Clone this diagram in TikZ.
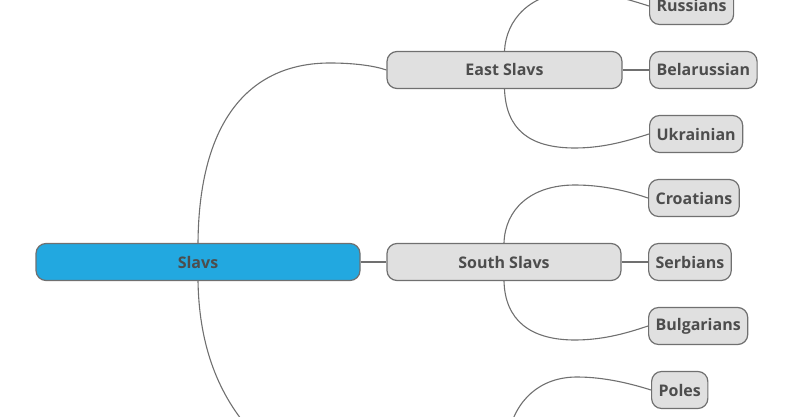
\documentclass[tikz,border=0pt]{standalone}
\usepackage{fontspec}
\setmainfont{Open Sans}
\usetikzlibrary{positioning}
\definecolor{rootblue}{HTML}{22A8E0}
\definecolor{boxgray}{HTML}{E0E0E0}
\definecolor{edgegray}{HTML}{707070}
\definecolor{textgray}{HTML}{4D4D4D}

\begin{document}
\begin{tikzpicture}[
    x=1pt, y=-1pt,
    topic/.style={draw=edgegray, line width=1.2pt, rounded corners=10pt,
        fill=boxgray, minimum height=37pt, inner xsep=7pt,
        font=\fontsize{16}{18}\selectfont\bfseries, text=textgray},
    root topic/.style={topic, fill=rootblue},
    branch/.style={draw=edgegray, line width=1.1pt},
    every node/.style={color=textgray}
    ]
    \useasboundingbox (0,0) rectangle (794,417);
    \clip (0,0) rectangle (794,417);
    % Nodes
    \node[root topic, minimum width=324pt] (slavs) at (198,262) {Slavs};
    \node[topic, minimum width=235pt] (east) at (504.5,70) {East Slavs};
    \node[topic, minimum width=234pt] (south) at (504,262) {South Slavs};
    \coordinate (west) at (508,436);
    % Leaves
    \node[topic, anchor=west] (russians) at (649,6) {Russians};
    \node[topic, anchor=west] (belarus) at (649,70) {Belarussian};
    \node[topic, anchor=west] (ukraine) at (649,134) {Ukrainian};
    \node[topic, anchor=west] (croatia) at (648,198) {Croatians};
    \node[topic, anchor=west] (serbia) at (648,262) {Serbians};
    \node[topic, anchor=west] (bulgaria) at (648,326) {Bulgarians};
    \node[topic, anchor=west] (poles) at (651,390) {Poles};
    % Main branches
    \draw[branch] (slavs.north) .. controls (199,120) and (250,63) .. (330,63)
        .. controls (355,63) and (375,66) .. (east.west);
    \draw[branch] (slavs.east) -- (south.west);
    \draw[branch] (slavs.south) .. controls (199,340) and (215,390) .. (250,430);
    % East Slavs
    \draw[branch] (east.north) .. controls (506,20) and (530,-8) .. (575,-8)
        .. controls (605,-8) and (630,0) .. (russians.west);
    \draw[branch] (east.east) -- (belarus.west);
    \draw[branch] (east.south) .. controls (506,130) and (530,148) .. (575,148)
        .. controls (605,148) and (630,140) .. (ukraine.west);
    % South Slavs
    \draw[branch] (south.north) .. controls (505,210) and (530,185) .. (575,185)
        .. controls (605,185) and (630,192) .. (croatia.west);
    \draw[branch] (south.east) -- (serbia.west);
    \draw[branch] (south.south) .. controls (505,320) and (530,340) .. (575,340)
        .. controls (605,340) and (630,332) .. (bulgaria.west);
    % West Slavs
    \draw[branch] (west) .. controls (515,400) and (540,377) .. (577,377)
        .. controls (605,377) and (632,384) .. (poles.west);
\end{tikzpicture}
\end{document}
